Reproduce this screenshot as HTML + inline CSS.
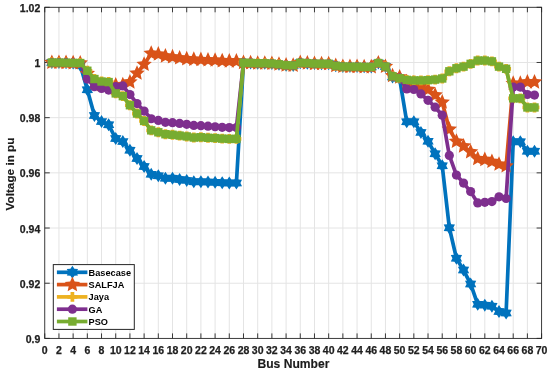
<!DOCTYPE html>
<html><head><meta charset="utf-8"><title>Voltage profile</title>
<style>html,body{margin:0;padding:0;background:#fff}body{width:550px;height:371px;position:relative;overflow:hidden}</style></head>
<body>
<svg width="550" height="371" viewBox="0 0 550 371" style="display:block;position:absolute;left:0;top:0">
<rect width="550" height="371" fill="#fff"/>
<path d="M58.95 7.30V338.40M73.14 7.30V338.40M87.34 7.30V338.40M101.53 7.30V338.40M115.73 7.30V338.40M129.92 7.30V338.40M144.12 7.30V338.40M158.32 7.30V338.40M172.51 7.30V338.40M186.71 7.30V338.40M200.90 7.30V338.40M215.10 7.30V338.40M229.29 7.30V338.40M243.49 7.30V338.40M257.69 7.30V338.40M271.88 7.30V338.40M286.08 7.30V338.40M300.27 7.30V338.40M314.47 7.30V338.40M328.66 7.30V338.40M342.86 7.30V338.40M357.06 7.30V338.40M371.25 7.30V338.40M385.45 7.30V338.40M399.64 7.30V338.40M413.84 7.30V338.40M428.03 7.30V338.40M442.23 7.30V338.40M456.43 7.30V338.40M470.62 7.30V338.40M484.82 7.30V338.40M499.01 7.30V338.40M513.21 7.30V338.40M527.40 7.30V338.40M44.75 62.48H541.60M44.75 117.67H541.60M44.75 172.85H541.60M44.75 228.03H541.60M44.75 283.22H541.60" stroke="#e4e4e4" stroke-width="1" fill="none"/>
<path d="M44.75 338.40V333.40M44.75 7.30V12.30M58.95 338.40V333.40M58.95 7.30V12.30M73.14 338.40V333.40M73.14 7.30V12.30M87.34 338.40V333.40M87.34 7.30V12.30M101.53 338.40V333.40M101.53 7.30V12.30M115.73 338.40V333.40M115.73 7.30V12.30M129.92 338.40V333.40M129.92 7.30V12.30M144.12 338.40V333.40M144.12 7.30V12.30M158.32 338.40V333.40M158.32 7.30V12.30M172.51 338.40V333.40M172.51 7.30V12.30M186.71 338.40V333.40M186.71 7.30V12.30M200.90 338.40V333.40M200.90 7.30V12.30M215.10 338.40V333.40M215.10 7.30V12.30M229.29 338.40V333.40M229.29 7.30V12.30M243.49 338.40V333.40M243.49 7.30V12.30M257.69 338.40V333.40M257.69 7.30V12.30M271.88 338.40V333.40M271.88 7.30V12.30M286.08 338.40V333.40M286.08 7.30V12.30M300.27 338.40V333.40M300.27 7.30V12.30M314.47 338.40V333.40M314.47 7.30V12.30M328.66 338.40V333.40M328.66 7.30V12.30M342.86 338.40V333.40M342.86 7.30V12.30M357.06 338.40V333.40M357.06 7.30V12.30M371.25 338.40V333.40M371.25 7.30V12.30M385.45 338.40V333.40M385.45 7.30V12.30M399.64 338.40V333.40M399.64 7.30V12.30M413.84 338.40V333.40M413.84 7.30V12.30M428.03 338.40V333.40M428.03 7.30V12.30M442.23 338.40V333.40M442.23 7.30V12.30M456.43 338.40V333.40M456.43 7.30V12.30M470.62 338.40V333.40M470.62 7.30V12.30M484.82 338.40V333.40M484.82 7.30V12.30M499.01 338.40V333.40M499.01 7.30V12.30M513.21 338.40V333.40M513.21 7.30V12.30M527.40 338.40V333.40M527.40 7.30V12.30M541.60 338.40V333.40M541.60 7.30V12.30M44.75 7.30H49.75M541.60 7.30H536.60M44.75 62.48H49.75M541.60 62.48H536.60M44.75 117.67H49.75M541.60 117.67H536.60M44.75 172.85H49.75M541.60 172.85H536.60M44.75 228.03H49.75M541.60 228.03H536.60M44.75 283.22H49.75M541.60 283.22H536.60M44.75 338.40H49.75M541.60 338.40H536.60" stroke="#262626" stroke-width="0.9" fill="none"/>
<rect x="44.75" y="7.30" width="496.85" height="331.10" fill="none" stroke="#262626" stroke-width="0.9"/>
<g>
<polyline points="51.85,62.48 58.95,62.57 66.04,62.68 73.14,62.92 80.24,65.19 87.34,89.83 94.44,115.49 101.53,121.61 108.63,124.73 115.73,138.53 122.83,141.62 129.92,150.34 137.02,158.42 144.12,166.42 151.22,174.34 158.32,175.80 165.41,178.23 172.51,178.26 179.61,179.55 186.71,180.38 193.81,181.71 200.90,181.73 208.00,181.93 215.10,182.37 222.20,182.84 229.29,183.03 236.39,183.09 243.49,62.68 250.59,62.90 257.69,63.23 264.78,63.28 271.88,63.56 278.98,64.28 286.08,65.21 293.18,65.38 300.27,62.70 307.37,63.17 314.47,63.61 321.57,63.75 328.66,63.75 335.76,65.68 342.86,66.48 349.96,66.59 357.06,66.62 364.15,66.87 371.25,66.90 378.35,63.06 385.45,66.51 392.55,77.11 399.64,78.62 406.74,121.70 413.84,121.72 420.94,132.40 428.03,141.37 435.13,153.70 442.23,165.76 449.33,227.76 456.43,258.27 463.52,270.08 470.62,283.93 477.72,304.35 484.82,305.15 491.92,306.20 499.01,311.44 506.11,313.04 513.21,141.78 520.31,141.78 527.40,151.25 534.50,151.25" fill="none" stroke="#0072BD" stroke-width="3.7" stroke-linejoin="round"/><g><polygon points="51.85,55.98 53.85,59.02 57.48,59.23 55.85,62.48 57.48,65.73 53.85,65.95 51.85,68.98 49.85,65.95 46.22,65.73 47.85,62.48 46.22,59.23 49.85,59.02" fill="#0072BD"/><polygon points="58.95,56.07 60.95,59.10 64.57,59.32 62.95,62.57 64.57,65.82 60.95,66.03 58.95,69.07 56.95,66.03 53.32,65.82 54.95,62.57 53.32,59.32 56.95,59.10" fill="#0072BD"/><polygon points="66.04,56.18 68.04,59.21 71.67,59.43 70.04,62.68 71.67,65.93 68.04,66.14 66.04,69.18 64.04,66.14 60.41,65.93 62.04,62.68 60.41,59.43 64.04,59.21" fill="#0072BD"/><polygon points="73.14,56.42 75.14,59.46 78.77,59.67 77.14,62.92 78.77,66.17 75.14,66.39 73.14,69.42 71.14,66.39 67.51,66.17 69.14,62.92 67.51,59.67 71.14,59.46" fill="#0072BD"/><polygon points="80.24,58.69 82.24,61.72 85.87,61.94 84.24,65.19 85.87,68.44 82.24,68.65 80.24,71.69 78.24,68.65 74.61,68.44 76.24,65.19 74.61,61.94 78.24,61.72" fill="#0072BD"/><polygon points="87.34,83.33 89.34,86.36 92.97,86.58 91.34,89.83 92.97,93.08 89.34,93.29 87.34,96.33 85.34,93.29 81.71,93.08 83.34,89.83 81.71,86.58 85.34,86.36" fill="#0072BD"/><polygon points="94.44,108.99 96.44,112.02 100.06,112.24 98.44,115.49 100.06,118.74 96.44,118.95 94.44,121.99 92.44,118.95 88.81,118.74 90.44,115.49 88.81,112.24 92.44,112.02" fill="#0072BD"/><polygon points="101.53,115.11 103.53,118.15 107.16,118.36 105.53,121.61 107.16,124.86 103.53,125.08 101.53,128.11 99.53,125.08 95.90,124.86 97.53,121.61 95.90,118.36 99.53,118.15" fill="#0072BD"/><polygon points="108.63,118.23 110.63,121.27 114.26,121.48 112.63,124.73 114.26,127.98 110.63,128.19 108.63,131.23 106.63,128.19 103.00,127.98 104.63,124.73 103.00,121.48 106.63,121.27" fill="#0072BD"/><polygon points="115.73,132.03 117.73,135.06 121.36,135.28 119.73,138.53 121.36,141.78 117.73,141.99 115.73,145.03 113.73,141.99 110.10,141.78 111.73,138.53 110.10,135.28 113.73,135.06" fill="#0072BD"/><polygon points="122.83,135.12 124.83,138.15 128.46,138.37 126.83,141.62 128.46,144.87 124.83,145.08 122.83,148.12 120.83,145.08 117.20,144.87 118.83,141.62 117.20,138.37 120.83,138.15" fill="#0072BD"/><polygon points="129.92,143.84 131.92,146.87 135.55,147.09 133.92,150.34 135.55,153.59 131.92,153.80 129.92,156.84 127.92,153.80 124.30,153.59 125.92,150.34 124.30,147.09 127.92,146.87" fill="#0072BD"/><polygon points="137.02,151.92 139.02,154.96 142.65,155.17 141.02,158.42 142.65,161.67 139.02,161.88 137.02,164.92 135.02,161.88 131.39,161.67 133.02,158.42 131.39,155.17 135.02,154.96" fill="#0072BD"/><polygon points="144.12,159.92 146.12,162.96 149.75,163.17 148.12,166.42 149.75,169.67 146.12,169.89 144.12,172.92 142.12,169.89 138.49,169.67 140.12,166.42 138.49,163.17 142.12,162.96" fill="#0072BD"/><polygon points="151.22,167.84 153.22,170.88 156.85,171.09 155.22,174.34 156.85,177.59 153.22,177.80 151.22,180.84 149.22,177.80 145.59,177.59 147.22,174.34 145.59,171.09 149.22,170.88" fill="#0072BD"/><polygon points="158.32,169.30 160.32,172.34 163.94,172.55 162.32,175.80 163.94,179.05 160.32,179.27 158.32,182.30 156.32,179.27 152.69,179.05 154.32,175.80 152.69,172.55 156.32,172.34" fill="#0072BD"/><polygon points="165.41,171.73 167.41,174.77 171.04,174.98 169.41,178.23 171.04,181.48 167.41,181.69 165.41,184.73 163.41,181.69 159.78,181.48 161.41,178.23 159.78,174.98 163.41,174.77" fill="#0072BD"/><polygon points="172.51,171.76 174.51,174.79 178.14,175.01 176.51,178.26 178.14,181.51 174.51,181.72 172.51,184.76 170.51,181.72 166.88,181.51 168.51,178.26 166.88,175.01 170.51,174.79" fill="#0072BD"/><polygon points="179.61,173.05 181.61,176.09 185.24,176.30 183.61,179.55 185.24,182.80 181.61,183.02 179.61,186.05 177.61,183.02 173.98,182.80 175.61,179.55 173.98,176.30 177.61,176.09" fill="#0072BD"/><polygon points="186.71,173.88 188.71,176.92 192.34,177.13 190.71,180.38 192.34,183.63 188.71,183.85 186.71,186.88 184.71,183.85 181.08,183.63 182.71,180.38 181.08,177.13 184.71,176.92" fill="#0072BD"/><polygon points="193.81,175.21 195.81,178.24 199.43,178.46 197.81,181.71 199.43,184.96 195.81,185.17 193.81,188.21 191.81,185.17 188.18,184.96 189.81,181.71 188.18,178.46 191.81,178.24" fill="#0072BD"/><polygon points="200.90,175.23 202.90,178.27 206.53,178.48 204.90,181.73 206.53,184.98 202.90,185.20 200.90,188.23 198.90,185.20 195.27,184.98 196.90,181.73 195.27,178.48 198.90,178.27" fill="#0072BD"/><polygon points="208.00,175.43 210.00,178.46 213.63,178.68 212.00,181.93 213.63,185.18 210.00,185.39 208.00,188.43 206.00,185.39 202.37,185.18 204.00,181.93 202.37,178.68 206.00,178.46" fill="#0072BD"/><polygon points="215.10,175.87 217.10,178.91 220.73,179.12 219.10,182.37 220.73,185.62 217.10,185.83 215.10,188.87 213.10,185.83 209.47,185.62 211.10,182.37 209.47,179.12 213.10,178.91" fill="#0072BD"/><polygon points="222.20,176.34 224.20,179.37 227.83,179.59 226.20,182.84 227.83,186.09 224.20,186.30 222.20,189.34 220.20,186.30 216.57,186.09 218.20,182.84 216.57,179.59 220.20,179.37" fill="#0072BD"/><polygon points="229.29,176.53 231.29,179.57 234.92,179.78 233.29,183.03 234.92,186.28 231.29,186.50 229.29,189.53 227.29,186.50 223.67,186.28 225.29,183.03 223.67,179.78 227.29,179.57" fill="#0072BD"/><polygon points="236.39,176.59 238.39,179.62 242.02,179.84 240.39,183.09 242.02,186.34 238.39,186.55 236.39,189.59 234.39,186.55 230.76,186.34 232.39,183.09 230.76,179.84 234.39,179.62" fill="#0072BD"/><polygon points="243.49,56.18 245.49,59.21 249.12,59.43 247.49,62.68 249.12,65.93 245.49,66.14 243.49,69.18 241.49,66.14 237.86,65.93 239.49,62.68 237.86,59.43 241.49,59.21" fill="#0072BD"/><polygon points="250.59,56.40 252.59,59.43 256.22,59.65 254.59,62.90 256.22,66.15 252.59,66.36 250.59,69.40 248.59,66.36 244.96,66.15 246.59,62.90 244.96,59.65 248.59,59.43" fill="#0072BD"/><polygon points="257.69,56.73 259.69,59.76 263.31,59.98 261.69,63.23 263.31,66.48 259.69,66.69 257.69,69.73 255.69,66.69 252.06,66.48 253.69,63.23 252.06,59.98 255.69,59.76" fill="#0072BD"/><polygon points="264.78,56.78 266.78,59.82 270.41,60.03 268.78,63.28 270.41,66.53 266.78,66.75 264.78,69.78 262.78,66.75 259.15,66.53 260.78,63.28 259.15,60.03 262.78,59.82" fill="#0072BD"/><polygon points="271.88,57.06 273.88,60.10 277.51,60.31 275.88,63.56 277.51,66.81 273.88,67.02 271.88,70.06 269.88,67.02 266.25,66.81 267.88,63.56 266.25,60.31 269.88,60.10" fill="#0072BD"/><polygon points="278.98,57.78 280.98,60.81 284.61,61.03 282.98,64.28 284.61,67.53 280.98,67.74 278.98,70.78 276.98,67.74 273.35,67.53 274.98,64.28 273.35,61.03 276.98,60.81" fill="#0072BD"/><polygon points="286.08,58.71 288.08,61.75 291.71,61.96 290.08,65.21 291.71,68.46 288.08,68.68 286.08,71.71 284.08,68.68 280.45,68.46 282.08,65.21 280.45,61.96 284.08,61.75" fill="#0072BD"/><polygon points="293.18,58.88 295.18,61.92 298.80,62.13 297.18,65.38 298.80,68.63 295.18,68.84 293.18,71.88 291.18,68.84 287.55,68.63 289.18,65.38 287.55,62.13 291.18,61.92" fill="#0072BD"/><polygon points="300.27,56.20 302.27,59.24 305.90,59.45 304.27,62.70 305.90,65.95 302.27,66.17 300.27,69.20 298.27,66.17 294.64,65.95 296.27,62.70 294.64,59.45 298.27,59.24" fill="#0072BD"/><polygon points="307.37,56.67 309.37,59.71 313.00,59.92 311.37,63.17 313.00,66.42 309.37,66.64 307.37,69.67 305.37,66.64 301.74,66.42 303.37,63.17 301.74,59.92 305.37,59.71" fill="#0072BD"/><polygon points="314.47,57.11 316.47,60.15 320.10,60.36 318.47,63.61 320.10,66.86 316.47,67.08 314.47,70.11 312.47,67.08 308.84,66.86 310.47,63.61 308.84,60.36 312.47,60.15" fill="#0072BD"/><polygon points="321.57,57.25 323.57,60.29 327.20,60.50 325.57,63.75 327.20,67.00 323.57,67.22 321.57,70.25 319.57,67.22 315.94,67.00 317.57,63.75 315.94,60.50 319.57,60.29" fill="#0072BD"/><polygon points="328.66,57.25 330.66,60.29 334.29,60.50 332.66,63.75 334.29,67.00 330.66,67.22 328.66,70.25 326.66,67.22 323.04,67.00 324.66,63.75 323.04,60.50 326.66,60.29" fill="#0072BD"/><polygon points="335.76,59.18 337.76,62.22 341.39,62.43 339.76,65.68 341.39,68.93 337.76,69.15 335.76,72.18 333.76,69.15 330.13,68.93 331.76,65.68 330.13,62.43 333.76,62.22" fill="#0072BD"/><polygon points="342.86,59.98 344.86,63.02 348.49,63.23 346.86,66.48 348.49,69.73 344.86,69.95 342.86,72.98 340.86,69.95 337.23,69.73 338.86,66.48 337.23,63.23 340.86,63.02" fill="#0072BD"/><polygon points="349.96,60.09 351.96,63.13 355.59,63.34 353.96,66.59 355.59,69.84 351.96,70.06 349.96,73.09 347.96,70.06 344.33,69.84 345.96,66.59 344.33,63.34 347.96,63.13" fill="#0072BD"/><polygon points="357.06,60.12 359.06,63.16 362.68,63.37 361.06,66.62 362.68,69.87 359.06,70.09 357.06,73.12 355.06,70.09 351.43,69.87 353.06,66.62 351.43,63.37 355.06,63.16" fill="#0072BD"/><polygon points="364.15,60.37 366.15,63.41 369.78,63.62 368.15,66.87 369.78,70.12 366.15,70.33 364.15,73.37 362.15,70.33 358.52,70.12 360.15,66.87 358.52,63.62 362.15,63.41" fill="#0072BD"/><polygon points="371.25,60.40 373.25,63.43 376.88,63.65 375.25,66.90 376.88,70.15 373.25,70.36 371.25,73.40 369.25,70.36 365.62,70.15 367.25,66.90 365.62,63.65 369.25,63.43" fill="#0072BD"/><polygon points="378.35,56.56 380.35,59.60 383.98,59.81 382.35,63.06 383.98,66.31 380.35,66.53 378.35,69.56 376.35,66.53 372.72,66.31 374.35,63.06 372.72,59.81 376.35,59.60" fill="#0072BD"/><polygon points="385.45,60.01 387.45,63.05 391.08,63.26 389.45,66.51 391.08,69.76 387.45,69.98 385.45,73.01 383.45,69.98 379.82,69.76 381.45,66.51 379.82,63.26 383.45,63.05" fill="#0072BD"/><polygon points="392.55,70.61 394.55,73.64 398.17,73.86 396.55,77.11 398.17,80.36 394.55,80.57 392.55,83.61 390.55,80.57 386.92,80.36 388.55,77.11 386.92,73.86 390.55,73.64" fill="#0072BD"/><polygon points="399.64,72.12 401.64,75.16 405.27,75.37 403.64,78.62 405.27,81.87 401.64,82.09 399.64,85.12 397.64,82.09 394.01,81.87 395.64,78.62 394.01,75.37 397.64,75.16" fill="#0072BD"/><polygon points="406.74,115.20 408.74,118.23 412.37,118.45 410.74,121.70 412.37,124.95 408.74,125.16 406.74,128.20 404.74,125.16 401.11,124.95 402.74,121.70 401.11,118.45 404.74,118.23" fill="#0072BD"/><polygon points="413.84,115.22 415.84,118.26 419.47,118.47 417.84,121.72 419.47,124.97 415.84,125.19 413.84,128.22 411.84,125.19 408.21,124.97 409.84,121.72 408.21,118.47 411.84,118.26" fill="#0072BD"/><polygon points="420.94,125.90 422.94,128.94 426.57,129.15 424.94,132.40 426.57,135.65 422.94,135.86 420.94,138.90 418.94,135.86 415.31,135.65 416.94,132.40 415.31,129.15 418.94,128.94" fill="#0072BD"/><polygon points="428.03,134.87 430.03,137.90 433.66,138.12 432.03,141.37 433.66,144.62 430.03,144.83 428.03,147.87 426.03,144.83 422.41,144.62 424.03,141.37 422.41,138.12 426.03,137.90" fill="#0072BD"/><polygon points="435.13,147.20 437.13,150.24 440.76,150.45 439.13,153.70 440.76,156.95 437.13,157.17 435.13,160.20 433.13,157.17 429.50,156.95 431.13,153.70 429.50,150.45 433.13,150.24" fill="#0072BD"/><polygon points="442.23,159.26 444.23,162.29 447.86,162.51 446.23,165.76 447.86,169.01 444.23,169.22 442.23,172.26 440.23,169.22 436.60,169.01 438.23,165.76 436.60,162.51 440.23,162.29" fill="#0072BD"/><polygon points="449.33,221.26 451.33,224.29 454.96,224.51 453.33,227.76 454.96,231.01 451.33,231.22 449.33,234.26 447.33,231.22 443.70,231.01 445.33,227.76 443.70,224.51 447.33,224.29" fill="#0072BD"/><polygon points="456.43,251.77 458.43,254.81 462.05,255.02 460.43,258.27 462.05,261.52 458.43,261.74 456.43,264.77 454.43,261.74 450.80,261.52 452.43,258.27 450.80,255.02 454.43,254.81" fill="#0072BD"/><polygon points="463.52,263.58 465.52,266.62 469.15,266.83 467.52,270.08 469.15,273.33 465.52,273.55 463.52,276.58 461.52,273.55 457.89,273.33 459.52,270.08 457.89,266.83 461.52,266.62" fill="#0072BD"/><polygon points="470.62,277.43 472.62,280.47 476.25,280.68 474.62,283.93 476.25,287.18 472.62,287.40 470.62,290.43 468.62,287.40 464.99,287.18 466.62,283.93 464.99,280.68 468.62,280.47" fill="#0072BD"/><polygon points="477.72,297.85 479.72,300.89 483.35,301.10 481.72,304.35 483.35,307.60 479.72,307.82 477.72,310.85 475.72,307.82 472.09,307.60 473.72,304.35 472.09,301.10 475.72,300.89" fill="#0072BD"/><polygon points="484.82,298.65 486.82,301.69 490.45,301.90 488.82,305.15 490.45,308.40 486.82,308.62 484.82,311.65 482.82,308.62 479.19,308.40 480.82,305.15 479.19,301.90 482.82,301.69" fill="#0072BD"/><polygon points="491.92,299.70 493.92,302.74 497.54,302.95 495.92,306.20 497.54,309.45 493.92,309.66 491.92,312.70 489.92,309.66 486.29,309.45 487.92,306.20 486.29,302.95 489.92,302.74" fill="#0072BD"/><polygon points="499.01,304.94 501.01,307.98 504.64,308.19 503.01,311.44 504.64,314.69 501.01,314.91 499.01,317.94 497.01,314.91 493.38,314.69 495.01,311.44 493.38,308.19 497.01,307.98" fill="#0072BD"/><polygon points="506.11,306.54 508.11,309.58 511.74,309.79 510.11,313.04 511.74,316.29 508.11,316.51 506.11,319.54 504.11,316.51 500.48,316.29 502.11,313.04 500.48,309.79 504.11,309.58" fill="#0072BD"/><polygon points="513.21,135.28 515.21,138.32 518.84,138.53 517.21,141.78 518.84,145.03 515.21,145.25 513.21,148.28 511.21,145.25 507.58,145.03 509.21,141.78 507.58,138.53 511.21,138.32" fill="#0072BD"/><polygon points="520.31,135.28 522.31,138.32 525.94,138.53 524.31,141.78 525.94,145.03 522.31,145.25 520.31,148.28 518.31,145.25 514.68,145.03 516.31,141.78 514.68,138.53 518.31,138.32" fill="#0072BD"/><polygon points="527.40,144.75 529.40,147.78 533.03,148.00 531.40,151.25 533.03,154.50 529.40,154.71 527.40,157.75 525.40,154.71 521.78,154.50 523.40,151.25 521.78,148.00 525.40,147.78" fill="#0072BD"/><polygon points="534.50,144.75 536.50,147.78 540.13,148.00 538.50,151.25 540.13,154.50 536.50,154.71 534.50,157.75 532.50,154.71 528.87,154.50 530.50,151.25 528.87,148.00 532.50,147.78" fill="#0072BD"/></g>
<polyline points="51.85,62.48 58.95,62.57 66.04,62.68 73.14,62.92 80.24,63.04 87.34,73.52 94.44,82.90 101.53,84.83 108.63,85.38 115.73,85.11 122.83,84.83 129.92,82.07 137.02,73.24 144.12,64.41 151.22,53.38 158.32,54.21 165.41,56.14 172.51,56.97 179.61,58.07 186.71,58.90 193.81,59.45 200.90,59.72 208.00,60.00 215.10,60.28 222.20,60.83 229.29,61.10 236.39,61.10 243.49,62.68 250.59,62.90 257.69,63.23 264.78,63.28 271.88,63.56 278.98,64.28 286.08,65.21 293.18,65.38 300.27,62.70 307.37,63.17 314.47,63.61 321.57,63.75 328.66,63.75 335.76,65.68 342.86,66.48 349.96,66.59 357.06,66.62 364.15,66.87 371.25,66.90 378.35,63.06 385.45,66.51 392.55,75.73 399.64,77.11 406.74,81.80 413.84,83.18 420.94,85.94 428.03,89.52 435.13,95.04 442.23,102.22 449.33,129.26 456.43,141.40 463.52,146.09 470.62,151.88 477.72,158.78 484.82,159.61 491.92,161.54 499.01,164.30 506.11,165.95 513.21,83.45 520.31,83.45 527.40,82.07 534.50,82.07" fill="none" stroke="#D95319" stroke-width="3.7" stroke-linejoin="round"/><g><polygon points="51.85,54.38 54.08,59.41 59.55,59.98 55.46,63.66 56.61,69.04 51.85,66.28 47.09,69.04 48.23,63.66 44.14,59.98 49.61,59.41" fill="#D95319"/><polygon points="58.95,54.47 61.18,59.49 66.65,60.06 62.56,63.74 63.71,69.12 58.95,66.37 54.18,69.12 55.33,63.74 51.24,60.06 56.71,59.49" fill="#D95319"/><polygon points="66.04,54.58 68.28,59.60 73.75,60.17 69.66,63.85 70.80,69.23 66.04,66.48 61.28,69.23 62.43,63.85 58.34,60.17 63.81,59.60" fill="#D95319"/><polygon points="73.14,54.82 75.38,59.85 80.84,60.42 76.76,64.10 77.90,69.48 73.14,66.72 68.38,69.48 69.53,64.10 65.44,60.42 70.91,59.85" fill="#D95319"/><polygon points="80.24,54.94 82.47,59.96 87.94,60.53 83.85,64.21 85.00,69.59 80.24,66.84 75.48,69.59 76.63,64.21 72.54,60.53 78.01,59.96" fill="#D95319"/><polygon points="87.34,65.42 89.57,70.45 95.04,71.02 90.95,74.69 92.10,80.07 87.34,77.32 82.58,80.07 83.72,74.69 79.63,71.02 85.10,70.45" fill="#D95319"/><polygon points="94.44,74.80 96.67,79.83 102.14,80.40 98.05,84.08 99.20,89.45 94.44,86.70 89.67,89.45 90.82,84.08 86.73,80.40 92.20,79.83" fill="#D95319"/><polygon points="101.53,76.73 103.77,81.76 109.24,82.33 105.15,86.01 106.29,91.39 101.53,88.63 96.77,91.39 97.92,86.01 93.83,82.33 99.30,81.76" fill="#D95319"/><polygon points="108.63,77.28 110.86,82.31 116.33,82.88 112.24,86.56 113.39,91.94 108.63,89.18 103.87,91.94 105.02,86.56 100.93,82.88 106.40,82.31" fill="#D95319"/><polygon points="115.73,77.01 117.96,82.03 123.43,82.61 119.34,86.28 120.49,91.66 115.73,88.91 110.97,91.66 112.11,86.28 108.03,82.61 113.49,82.03" fill="#D95319"/><polygon points="122.83,76.73 125.06,81.76 130.53,82.33 126.44,86.01 127.59,91.39 122.83,88.63 118.07,91.39 119.21,86.01 115.12,82.33 120.59,81.76" fill="#D95319"/><polygon points="129.92,73.97 132.16,79.00 137.63,79.57 133.54,83.25 134.69,88.63 129.92,85.87 125.16,88.63 126.31,83.25 122.22,79.57 127.69,79.00" fill="#D95319"/><polygon points="137.02,65.14 139.26,70.17 144.73,70.74 140.64,74.42 141.78,79.80 137.02,77.04 132.26,79.80 133.41,74.42 129.32,70.74 134.79,70.17" fill="#D95319"/><polygon points="144.12,56.31 146.35,61.34 151.82,61.91 147.73,65.59 148.88,70.97 144.12,68.21 139.36,70.97 140.51,65.59 136.42,61.91 141.89,61.34" fill="#D95319"/><polygon points="151.22,45.28 153.45,50.30 158.92,50.88 154.83,54.55 155.98,59.93 151.22,57.18 146.46,59.93 147.60,54.55 143.51,50.88 148.98,50.30" fill="#D95319"/><polygon points="158.32,46.11 160.55,51.13 166.02,51.70 161.93,55.38 163.08,60.76 158.32,58.01 153.55,60.76 154.70,55.38 150.61,51.70 156.08,51.13" fill="#D95319"/><polygon points="165.41,48.04 167.65,53.06 173.12,53.63 169.03,57.31 170.17,62.69 165.41,59.94 160.65,62.69 161.80,57.31 157.71,53.63 163.18,53.06" fill="#D95319"/><polygon points="172.51,48.87 174.75,53.89 180.21,54.46 176.13,58.14 177.27,63.52 172.51,60.77 167.75,63.52 168.90,58.14 164.81,54.46 170.28,53.89" fill="#D95319"/><polygon points="179.61,49.97 181.84,54.99 187.31,55.57 183.22,59.24 184.37,64.62 179.61,61.87 174.85,64.62 176.00,59.24 171.91,55.57 177.38,54.99" fill="#D95319"/><polygon points="186.71,50.80 188.94,55.82 194.41,56.39 190.32,60.07 191.47,65.45 186.71,62.70 181.95,65.45 183.09,60.07 179.00,56.39 184.47,55.82" fill="#D95319"/><polygon points="193.81,51.35 196.04,56.37 201.51,56.95 197.42,60.62 198.57,66.00 193.81,63.25 189.04,66.00 190.19,60.62 186.10,56.95 191.57,56.37" fill="#D95319"/><polygon points="200.90,51.62 203.14,56.65 208.61,57.22 204.52,60.90 205.66,66.28 200.90,63.52 196.14,66.28 197.29,60.90 193.20,57.22 198.67,56.65" fill="#D95319"/><polygon points="208.00,51.90 210.23,56.93 215.70,57.50 211.61,61.17 212.76,66.55 208.00,63.80 203.24,66.55 204.39,61.17 200.30,57.50 205.77,56.93" fill="#D95319"/><polygon points="215.10,52.18 217.33,57.20 222.80,57.77 218.71,61.45 219.86,66.83 215.10,64.08 210.34,66.83 211.48,61.45 207.40,57.77 212.86,57.20" fill="#D95319"/><polygon points="222.20,52.73 224.43,57.75 229.90,58.32 225.81,62.00 226.96,67.38 222.20,64.63 217.44,67.38 218.58,62.00 214.49,58.32 219.96,57.75" fill="#D95319"/><polygon points="229.29,53.00 231.53,58.03 237.00,58.60 232.91,62.28 234.06,67.66 229.29,64.90 224.53,67.66 225.68,62.28 221.59,58.60 227.06,58.03" fill="#D95319"/><polygon points="236.39,53.00 238.63,58.03 244.10,58.60 240.01,62.28 241.15,67.66 236.39,64.90 231.63,67.66 232.78,62.28 228.69,58.60 234.16,58.03" fill="#D95319"/><polygon points="243.49,54.58 245.72,59.60 251.19,60.17 247.10,63.85 248.25,69.23 243.49,66.48 238.73,69.23 239.88,63.85 235.79,60.17 241.26,59.60" fill="#D95319"/><polygon points="250.59,54.80 252.82,59.82 258.29,60.39 254.20,64.07 255.35,69.45 250.59,66.70 245.83,69.45 246.97,64.07 242.88,60.39 248.35,59.82" fill="#D95319"/><polygon points="257.69,55.13 259.92,60.15 265.39,60.73 261.30,64.40 262.45,69.78 257.69,67.03 252.92,69.78 254.07,64.40 249.98,60.73 255.45,60.15" fill="#D95319"/><polygon points="264.78,55.18 267.02,60.21 272.49,60.78 268.40,64.46 269.54,69.84 264.78,67.08 260.02,69.84 261.17,64.46 257.08,60.78 262.55,60.21" fill="#D95319"/><polygon points="271.88,55.46 274.12,60.49 279.58,61.06 275.50,64.73 276.64,70.11 271.88,67.36 267.12,70.11 268.27,64.73 264.18,61.06 269.65,60.49" fill="#D95319"/><polygon points="278.98,56.18 281.21,61.20 286.68,61.77 282.59,65.45 283.74,70.83 278.98,68.08 274.22,70.83 275.37,65.45 271.28,61.77 276.75,61.20" fill="#D95319"/><polygon points="286.08,57.11 288.31,62.14 293.78,62.71 289.69,66.39 290.84,71.77 286.08,69.01 281.32,71.77 282.46,66.39 278.37,62.71 283.84,62.14" fill="#D95319"/><polygon points="293.18,57.28 295.41,62.31 300.88,62.88 296.79,66.55 297.94,71.93 293.18,69.18 288.41,71.93 289.56,66.55 285.47,62.88 290.94,62.31" fill="#D95319"/><polygon points="300.27,54.60 302.51,59.63 307.98,60.20 303.89,63.88 305.03,69.26 300.27,66.50 295.51,69.26 296.66,63.88 292.57,60.20 298.04,59.63" fill="#D95319"/><polygon points="307.37,55.07 309.60,60.10 315.07,60.67 310.98,64.35 312.13,69.73 307.37,66.97 302.61,69.73 303.76,64.35 299.67,60.67 305.14,60.10" fill="#D95319"/><polygon points="314.47,55.51 316.70,60.54 322.17,61.11 318.08,64.79 319.23,70.17 314.47,67.41 309.71,70.17 310.85,64.79 306.77,61.11 312.23,60.54" fill="#D95319"/><polygon points="321.57,55.65 323.80,60.68 329.27,61.25 325.18,64.93 326.33,70.31 321.57,67.55 316.81,70.31 317.95,64.93 313.86,61.25 319.33,60.68" fill="#D95319"/><polygon points="328.66,55.65 330.90,60.68 336.37,61.25 332.28,64.93 333.43,70.31 328.66,67.55 323.90,70.31 325.05,64.93 320.96,61.25 326.43,60.68" fill="#D95319"/><polygon points="335.76,57.58 338.00,62.61 343.47,63.18 339.38,66.86 340.52,72.24 335.76,69.48 331.00,72.24 332.15,66.86 328.06,63.18 333.53,62.61" fill="#D95319"/><polygon points="342.86,58.38 345.09,63.41 350.56,63.98 346.47,67.66 347.62,73.04 342.86,70.28 338.10,73.04 339.25,67.66 335.16,63.98 340.63,63.41" fill="#D95319"/><polygon points="349.96,58.49 352.19,63.52 357.66,64.09 353.57,67.77 354.72,73.15 349.96,70.39 345.20,73.15 346.34,67.77 342.25,64.09 347.72,63.52" fill="#D95319"/><polygon points="357.06,58.52 359.29,63.55 364.76,64.12 360.67,67.80 361.82,73.18 357.06,70.42 352.29,73.18 353.44,67.80 349.35,64.12 354.82,63.55" fill="#D95319"/><polygon points="364.15,58.77 366.39,63.80 371.86,64.37 367.77,68.04 368.91,73.42 364.15,70.67 359.39,73.42 360.54,68.04 356.45,64.37 361.92,63.80" fill="#D95319"/><polygon points="371.25,58.80 373.49,63.82 378.95,64.39 374.87,68.07 376.01,73.45 371.25,70.70 366.49,73.45 367.64,68.07 363.55,64.39 369.02,63.82" fill="#D95319"/><polygon points="378.35,54.96 380.58,59.99 386.05,60.56 381.96,64.24 383.11,69.62 378.35,66.86 373.59,69.62 374.74,64.24 370.65,60.56 376.12,59.99" fill="#D95319"/><polygon points="385.45,58.41 387.68,63.44 393.15,64.01 389.06,67.69 390.21,73.06 385.45,70.31 380.69,73.06 381.83,67.69 377.74,64.01 383.21,63.44" fill="#D95319"/><polygon points="392.55,67.63 394.78,72.65 400.25,73.22 396.16,76.90 397.31,82.28 392.55,79.53 387.78,82.28 388.93,76.90 384.84,73.22 390.31,72.65" fill="#D95319"/><polygon points="399.64,69.01 401.88,74.03 407.35,74.60 403.26,78.28 404.40,83.66 399.64,80.91 394.88,83.66 396.03,78.28 391.94,74.60 397.41,74.03" fill="#D95319"/><polygon points="406.74,73.70 408.97,78.72 414.44,79.29 410.35,82.97 411.50,88.35 406.74,85.60 401.98,88.35 403.13,82.97 399.04,79.29 404.51,78.72" fill="#D95319"/><polygon points="413.84,75.08 416.07,80.10 421.54,80.67 417.45,84.35 418.60,89.73 413.84,86.98 409.08,89.73 410.22,84.35 406.14,80.67 411.60,80.10" fill="#D95319"/><polygon points="420.94,77.84 423.17,82.86 428.64,83.43 424.55,87.11 425.70,92.49 420.94,89.74 416.18,92.49 417.32,87.11 413.23,83.43 418.70,82.86" fill="#D95319"/><polygon points="428.03,81.42 430.27,86.45 435.74,87.02 431.65,90.70 432.80,96.08 428.03,93.32 423.27,96.08 424.42,90.70 420.33,87.02 425.80,86.45" fill="#D95319"/><polygon points="435.13,86.94 437.37,91.97 442.84,92.54 438.75,96.22 439.89,101.59 435.13,98.84 430.37,101.59 431.52,96.22 427.43,92.54 432.90,91.97" fill="#D95319"/><polygon points="442.23,94.12 444.46,99.14 449.93,99.71 445.84,103.39 446.99,108.77 442.23,106.02 437.47,108.77 438.62,103.39 434.53,99.71 440.00,99.14" fill="#D95319"/><polygon points="449.33,121.16 451.56,126.18 457.03,126.75 452.94,130.43 454.09,135.81 449.33,133.06 444.57,135.81 445.71,130.43 441.62,126.75 447.09,126.18" fill="#D95319"/><polygon points="456.43,133.30 458.66,138.32 464.13,138.89 460.04,142.57 461.19,147.95 456.43,145.20 451.66,147.95 452.81,142.57 448.72,138.89 454.19,138.32" fill="#D95319"/><polygon points="463.52,137.99 465.76,143.01 471.23,143.58 467.14,147.26 468.28,152.64 463.52,149.89 458.76,152.64 459.91,147.26 455.82,143.58 461.29,143.01" fill="#D95319"/><polygon points="470.62,143.78 472.86,148.81 478.32,149.38 474.24,153.05 475.38,158.43 470.62,155.68 465.86,158.43 467.01,153.05 462.92,149.38 468.39,148.81" fill="#D95319"/><polygon points="477.72,150.68 479.95,155.70 485.42,156.28 481.33,159.95 482.48,165.33 477.72,162.58 472.96,165.33 474.11,159.95 470.02,156.28 475.49,155.70" fill="#D95319"/><polygon points="484.82,151.51 487.05,156.53 492.52,157.10 488.43,160.78 489.58,166.16 484.82,163.41 480.06,166.16 481.20,160.78 477.11,157.10 482.58,156.53" fill="#D95319"/><polygon points="491.92,153.44 494.15,158.46 499.62,159.03 495.53,162.71 496.68,168.09 491.92,165.34 487.15,168.09 488.30,162.71 484.21,159.03 489.68,158.46" fill="#D95319"/><polygon points="499.01,156.20 501.25,161.22 506.72,161.79 502.63,165.47 503.77,170.85 499.01,168.10 494.25,170.85 495.40,165.47 491.31,161.79 496.78,161.22" fill="#D95319"/><polygon points="506.11,157.85 508.34,162.88 513.81,163.45 509.72,167.13 510.87,172.51 506.11,169.75 501.35,172.51 502.50,167.13 498.41,163.45 503.88,162.88" fill="#D95319"/><polygon points="513.21,75.35 515.44,80.38 520.91,80.95 516.82,84.63 517.97,90.01 513.21,87.25 508.45,90.01 509.59,84.63 505.51,80.95 510.97,80.38" fill="#D95319"/><polygon points="520.31,75.35 522.54,80.38 528.01,80.95 523.92,84.63 525.07,90.01 520.31,87.25 515.55,90.01 516.69,84.63 512.60,80.95 518.07,80.38" fill="#D95319"/><polygon points="527.40,73.97 529.64,79.00 535.11,79.57 531.02,83.25 532.17,88.63 527.40,85.87 522.64,88.63 523.79,83.25 519.70,79.57 525.17,79.00" fill="#D95319"/><polygon points="534.50,73.97 536.74,79.00 542.21,79.57 538.12,83.25 539.26,88.63 534.50,85.87 529.74,88.63 530.89,83.25 526.80,79.57 532.27,79.00" fill="#D95319"/></g>
<polyline points="51.85,62.48 58.95,62.57 66.04,62.68 73.14,62.92 80.24,63.04 87.34,70.76 94.44,79.04 101.53,81.52 108.63,82.07 115.73,93.39 122.83,96.15 129.92,105.25 137.02,113.53 144.12,120.98 151.22,130.36 158.32,132.29 165.41,134.22 172.51,134.77 179.61,135.60 186.71,136.43 193.81,137.53 200.90,137.26 208.00,137.81 215.10,138.08 222.20,138.64 229.29,138.91 236.39,138.91 243.49,62.68 250.59,62.90 257.69,63.23 264.78,63.28 271.88,63.56 278.98,64.28 286.08,65.21 293.18,65.38 300.27,62.70 307.37,63.17 314.47,63.61 321.57,63.75 328.66,63.75 335.76,65.68 342.86,66.48 349.96,66.59 357.06,66.62 364.15,66.87 371.25,66.90 378.35,63.06 385.45,66.51 392.55,76.28 399.64,78.21 406.74,79.87 413.84,80.42 420.94,80.42 428.03,80.14 435.13,79.59 442.23,78.49 449.33,71.31 456.43,68.28 463.52,66.62 470.62,63.86 477.72,60.55 484.82,60.55 491.92,61.38 499.01,66.62 506.11,68.83 513.21,98.35 520.31,98.35 527.40,107.46 534.50,107.46" fill="none" stroke="#EDB120" stroke-width="3.7" stroke-linejoin="round"/><g><path d="M46.90 62.48H56.80M51.85 57.53V67.43" stroke="#EDB120" stroke-width="3.7" fill="none"/><path d="M54.00 62.57H63.90M58.95 57.62V67.52" stroke="#EDB120" stroke-width="3.7" fill="none"/><path d="M61.09 62.68H70.99M66.04 57.73V67.63" stroke="#EDB120" stroke-width="3.7" fill="none"/><path d="M68.19 62.92H78.09M73.14 57.97V67.87" stroke="#EDB120" stroke-width="3.7" fill="none"/><path d="M75.29 63.04H85.19M80.24 58.09V67.99" stroke="#EDB120" stroke-width="3.7" fill="none"/><path d="M82.39 70.76H92.29M87.34 65.81V75.71" stroke="#EDB120" stroke-width="3.7" fill="none"/><path d="M89.48 79.04H99.39M94.44 74.09V83.99" stroke="#EDB120" stroke-width="3.7" fill="none"/><path d="M96.58 81.52H106.48M101.53 76.57V86.47" stroke="#EDB120" stroke-width="3.7" fill="none"/><path d="M103.68 82.07H113.58M108.63 77.12V87.02" stroke="#EDB120" stroke-width="3.7" fill="none"/><path d="M110.78 93.39H120.68M115.73 88.44V98.34" stroke="#EDB120" stroke-width="3.7" fill="none"/><path d="M117.88 96.15H127.78M122.83 91.20V101.10" stroke="#EDB120" stroke-width="3.7" fill="none"/><path d="M124.97 105.25H134.87M129.92 100.30V110.20" stroke="#EDB120" stroke-width="3.7" fill="none"/><path d="M132.07 113.53H141.97M137.02 108.58V118.48" stroke="#EDB120" stroke-width="3.7" fill="none"/><path d="M139.17 120.98H149.07M144.12 116.03V125.93" stroke="#EDB120" stroke-width="3.7" fill="none"/><path d="M146.27 130.36H156.17M151.22 125.41V135.31" stroke="#EDB120" stroke-width="3.7" fill="none"/><path d="M153.37 132.29H163.27M158.32 127.34V137.24" stroke="#EDB120" stroke-width="3.7" fill="none"/><path d="M160.46 134.22H170.36M165.41 129.27V139.17" stroke="#EDB120" stroke-width="3.7" fill="none"/><path d="M167.56 134.77H177.46M172.51 129.82V139.72" stroke="#EDB120" stroke-width="3.7" fill="none"/><path d="M174.66 135.60H184.56M179.61 130.65V140.55" stroke="#EDB120" stroke-width="3.7" fill="none"/><path d="M181.76 136.43H191.66M186.71 131.48V141.38" stroke="#EDB120" stroke-width="3.7" fill="none"/><path d="M188.86 137.53H198.75M193.81 132.58V142.48" stroke="#EDB120" stroke-width="3.7" fill="none"/><path d="M195.95 137.26H205.85M200.90 132.31V142.21" stroke="#EDB120" stroke-width="3.7" fill="none"/><path d="M203.05 137.81H212.95M208.00 132.86V142.76" stroke="#EDB120" stroke-width="3.7" fill="none"/><path d="M210.15 138.08H220.05M215.10 133.13V143.03" stroke="#EDB120" stroke-width="3.7" fill="none"/><path d="M217.25 138.64H227.15M222.20 133.69V143.59" stroke="#EDB120" stroke-width="3.7" fill="none"/><path d="M224.34 138.91H234.24M229.29 133.96V143.86" stroke="#EDB120" stroke-width="3.7" fill="none"/><path d="M231.44 138.91H241.34M236.39 133.96V143.86" stroke="#EDB120" stroke-width="3.7" fill="none"/><path d="M238.54 62.68H248.44M243.49 57.73V67.63" stroke="#EDB120" stroke-width="3.7" fill="none"/><path d="M245.64 62.90H255.54M250.59 57.95V67.85" stroke="#EDB120" stroke-width="3.7" fill="none"/><path d="M252.74 63.23H262.64M257.69 58.28V68.18" stroke="#EDB120" stroke-width="3.7" fill="none"/><path d="M259.83 63.28H269.73M264.78 58.33V68.23" stroke="#EDB120" stroke-width="3.7" fill="none"/><path d="M266.93 63.56H276.83M271.88 58.61V68.51" stroke="#EDB120" stroke-width="3.7" fill="none"/><path d="M274.03 64.28H283.93M278.98 59.33V69.23" stroke="#EDB120" stroke-width="3.7" fill="none"/><path d="M281.13 65.21H291.03M286.08 60.26V70.16" stroke="#EDB120" stroke-width="3.7" fill="none"/><path d="M288.23 65.38H298.12M293.18 60.43V70.33" stroke="#EDB120" stroke-width="3.7" fill="none"/><path d="M295.32 62.70H305.22M300.27 57.75V67.65" stroke="#EDB120" stroke-width="3.7" fill="none"/><path d="M302.42 63.17H312.32M307.37 58.22V68.12" stroke="#EDB120" stroke-width="3.7" fill="none"/><path d="M309.52 63.61H319.42M314.47 58.66V68.56" stroke="#EDB120" stroke-width="3.7" fill="none"/><path d="M316.62 63.75H326.52M321.57 58.80V68.70" stroke="#EDB120" stroke-width="3.7" fill="none"/><path d="M323.71 63.75H333.61M328.66 58.80V68.70" stroke="#EDB120" stroke-width="3.7" fill="none"/><path d="M330.81 65.68H340.71M335.76 60.73V70.63" stroke="#EDB120" stroke-width="3.7" fill="none"/><path d="M337.91 66.48H347.81M342.86 61.53V71.43" stroke="#EDB120" stroke-width="3.7" fill="none"/><path d="M345.01 66.59H354.91M349.96 61.64V71.54" stroke="#EDB120" stroke-width="3.7" fill="none"/><path d="M352.11 66.62H362.01M357.06 61.67V71.57" stroke="#EDB120" stroke-width="3.7" fill="none"/><path d="M359.20 66.87H369.10M364.15 61.92V71.82" stroke="#EDB120" stroke-width="3.7" fill="none"/><path d="M366.30 66.90H376.20M371.25 61.95V71.85" stroke="#EDB120" stroke-width="3.7" fill="none"/><path d="M373.40 63.06H383.30M378.35 58.11V68.01" stroke="#EDB120" stroke-width="3.7" fill="none"/><path d="M380.50 66.51H390.40M385.45 61.56V71.46" stroke="#EDB120" stroke-width="3.7" fill="none"/><path d="M387.60 76.28H397.50M392.55 71.33V81.23" stroke="#EDB120" stroke-width="3.7" fill="none"/><path d="M394.69 78.21H404.59M399.64 73.26V83.16" stroke="#EDB120" stroke-width="3.7" fill="none"/><path d="M401.79 79.87H411.69M406.74 74.92V84.82" stroke="#EDB120" stroke-width="3.7" fill="none"/><path d="M408.89 80.42H418.79M413.84 75.47V85.37" stroke="#EDB120" stroke-width="3.7" fill="none"/><path d="M415.99 80.42H425.89M420.94 75.47V85.37" stroke="#EDB120" stroke-width="3.7" fill="none"/><path d="M423.08 80.14H432.98M428.03 75.19V85.09" stroke="#EDB120" stroke-width="3.7" fill="none"/><path d="M430.18 79.59H440.08M435.13 74.64V84.54" stroke="#EDB120" stroke-width="3.7" fill="none"/><path d="M437.28 78.49H447.18M442.23 73.54V83.44" stroke="#EDB120" stroke-width="3.7" fill="none"/><path d="M444.38 71.31H454.28M449.33 66.36V76.26" stroke="#EDB120" stroke-width="3.7" fill="none"/><path d="M451.48 68.28H461.38M456.43 63.33V73.23" stroke="#EDB120" stroke-width="3.7" fill="none"/><path d="M458.57 66.62H468.47M463.52 61.67V71.57" stroke="#EDB120" stroke-width="3.7" fill="none"/><path d="M465.67 63.86H475.57M470.62 58.91V68.81" stroke="#EDB120" stroke-width="3.7" fill="none"/><path d="M472.77 60.55H482.67M477.72 55.60V65.50" stroke="#EDB120" stroke-width="3.7" fill="none"/><path d="M479.87 60.55H489.77M484.82 55.60V65.50" stroke="#EDB120" stroke-width="3.7" fill="none"/><path d="M486.97 61.38H496.87M491.92 56.43V66.33" stroke="#EDB120" stroke-width="3.7" fill="none"/><path d="M494.06 66.62H503.96M499.01 61.67V71.57" stroke="#EDB120" stroke-width="3.7" fill="none"/><path d="M501.16 68.83H511.06M506.11 63.88V73.78" stroke="#EDB120" stroke-width="3.7" fill="none"/><path d="M508.26 98.35H518.16M513.21 93.40V103.30" stroke="#EDB120" stroke-width="3.7" fill="none"/><path d="M515.36 98.35H525.26M520.31 93.40V103.30" stroke="#EDB120" stroke-width="3.7" fill="none"/><path d="M522.45 107.46H532.35M527.40 102.51V112.41" stroke="#EDB120" stroke-width="3.7" fill="none"/><path d="M529.55 107.46H539.45M534.50 102.51V112.41" stroke="#EDB120" stroke-width="3.7" fill="none"/></g>
<polyline points="51.85,62.48 58.95,62.57 66.04,62.68 73.14,62.92 80.24,63.31 87.34,79.04 94.44,86.76 101.53,88.42 108.63,90.08 115.73,86.49 122.83,85.94 129.92,94.49 137.02,103.59 144.12,111.04 151.22,118.77 158.32,120.43 165.41,122.36 172.51,122.63 179.61,123.46 186.71,124.29 193.81,125.39 200.90,125.67 208.00,126.22 215.10,126.77 222.20,127.32 229.29,127.60 236.39,127.60 243.49,62.68 250.59,62.90 257.69,63.23 264.78,63.28 271.88,63.56 278.98,64.28 286.08,65.21 293.18,65.38 300.27,62.70 307.37,63.17 314.47,63.61 321.57,63.75 328.66,63.75 335.76,65.68 342.86,66.48 349.96,66.59 357.06,66.62 364.15,66.87 371.25,66.90 378.35,63.06 385.45,66.51 392.55,76.28 399.64,77.93 406.74,88.97 413.84,89.52 420.94,93.94 428.03,100.28 435.13,107.18 442.23,115.18 449.33,155.47 456.43,175.06 463.52,183.06 470.62,191.61 477.72,202.92 484.82,202.37 491.92,201.55 499.01,196.85 506.11,198.51 513.21,87.04 520.31,87.04 527.40,94.49 534.50,95.04" fill="none" stroke="#7E2F8E" stroke-width="3.7" stroke-linejoin="round"/><g><circle cx="51.85" cy="62.48" r="4.60" fill="#7E2F8E"/><circle cx="58.95" cy="62.57" r="4.60" fill="#7E2F8E"/><circle cx="66.04" cy="62.68" r="4.60" fill="#7E2F8E"/><circle cx="73.14" cy="62.92" r="4.60" fill="#7E2F8E"/><circle cx="80.24" cy="63.31" r="4.60" fill="#7E2F8E"/><circle cx="87.34" cy="79.04" r="4.60" fill="#7E2F8E"/><circle cx="94.44" cy="86.76" r="4.60" fill="#7E2F8E"/><circle cx="101.53" cy="88.42" r="4.60" fill="#7E2F8E"/><circle cx="108.63" cy="90.08" r="4.60" fill="#7E2F8E"/><circle cx="115.73" cy="86.49" r="4.60" fill="#7E2F8E"/><circle cx="122.83" cy="85.94" r="4.60" fill="#7E2F8E"/><circle cx="129.92" cy="94.49" r="4.60" fill="#7E2F8E"/><circle cx="137.02" cy="103.59" r="4.60" fill="#7E2F8E"/><circle cx="144.12" cy="111.04" r="4.60" fill="#7E2F8E"/><circle cx="151.22" cy="118.77" r="4.60" fill="#7E2F8E"/><circle cx="158.32" cy="120.43" r="4.60" fill="#7E2F8E"/><circle cx="165.41" cy="122.36" r="4.60" fill="#7E2F8E"/><circle cx="172.51" cy="122.63" r="4.60" fill="#7E2F8E"/><circle cx="179.61" cy="123.46" r="4.60" fill="#7E2F8E"/><circle cx="186.71" cy="124.29" r="4.60" fill="#7E2F8E"/><circle cx="193.81" cy="125.39" r="4.60" fill="#7E2F8E"/><circle cx="200.90" cy="125.67" r="4.60" fill="#7E2F8E"/><circle cx="208.00" cy="126.22" r="4.60" fill="#7E2F8E"/><circle cx="215.10" cy="126.77" r="4.60" fill="#7E2F8E"/><circle cx="222.20" cy="127.32" r="4.60" fill="#7E2F8E"/><circle cx="229.29" cy="127.60" r="4.60" fill="#7E2F8E"/><circle cx="236.39" cy="127.60" r="4.60" fill="#7E2F8E"/><circle cx="243.49" cy="62.68" r="4.60" fill="#7E2F8E"/><circle cx="250.59" cy="62.90" r="4.60" fill="#7E2F8E"/><circle cx="257.69" cy="63.23" r="4.60" fill="#7E2F8E"/><circle cx="264.78" cy="63.28" r="4.60" fill="#7E2F8E"/><circle cx="271.88" cy="63.56" r="4.60" fill="#7E2F8E"/><circle cx="278.98" cy="64.28" r="4.60" fill="#7E2F8E"/><circle cx="286.08" cy="65.21" r="4.60" fill="#7E2F8E"/><circle cx="293.18" cy="65.38" r="4.60" fill="#7E2F8E"/><circle cx="300.27" cy="62.70" r="4.60" fill="#7E2F8E"/><circle cx="307.37" cy="63.17" r="4.60" fill="#7E2F8E"/><circle cx="314.47" cy="63.61" r="4.60" fill="#7E2F8E"/><circle cx="321.57" cy="63.75" r="4.60" fill="#7E2F8E"/><circle cx="328.66" cy="63.75" r="4.60" fill="#7E2F8E"/><circle cx="335.76" cy="65.68" r="4.60" fill="#7E2F8E"/><circle cx="342.86" cy="66.48" r="4.60" fill="#7E2F8E"/><circle cx="349.96" cy="66.59" r="4.60" fill="#7E2F8E"/><circle cx="357.06" cy="66.62" r="4.60" fill="#7E2F8E"/><circle cx="364.15" cy="66.87" r="4.60" fill="#7E2F8E"/><circle cx="371.25" cy="66.90" r="4.60" fill="#7E2F8E"/><circle cx="378.35" cy="63.06" r="4.60" fill="#7E2F8E"/><circle cx="385.45" cy="66.51" r="4.60" fill="#7E2F8E"/><circle cx="392.55" cy="76.28" r="4.60" fill="#7E2F8E"/><circle cx="399.64" cy="77.93" r="4.60" fill="#7E2F8E"/><circle cx="406.74" cy="88.97" r="4.60" fill="#7E2F8E"/><circle cx="413.84" cy="89.52" r="4.60" fill="#7E2F8E"/><circle cx="420.94" cy="93.94" r="4.60" fill="#7E2F8E"/><circle cx="428.03" cy="100.28" r="4.60" fill="#7E2F8E"/><circle cx="435.13" cy="107.18" r="4.60" fill="#7E2F8E"/><circle cx="442.23" cy="115.18" r="4.60" fill="#7E2F8E"/><circle cx="449.33" cy="155.47" r="4.60" fill="#7E2F8E"/><circle cx="456.43" cy="175.06" r="4.60" fill="#7E2F8E"/><circle cx="463.52" cy="183.06" r="4.60" fill="#7E2F8E"/><circle cx="470.62" cy="191.61" r="4.60" fill="#7E2F8E"/><circle cx="477.72" cy="202.92" r="4.60" fill="#7E2F8E"/><circle cx="484.82" cy="202.37" r="4.60" fill="#7E2F8E"/><circle cx="491.92" cy="201.55" r="4.60" fill="#7E2F8E"/><circle cx="499.01" cy="196.85" r="4.60" fill="#7E2F8E"/><circle cx="506.11" cy="198.51" r="4.60" fill="#7E2F8E"/><circle cx="513.21" cy="87.04" r="4.60" fill="#7E2F8E"/><circle cx="520.31" cy="87.04" r="4.60" fill="#7E2F8E"/><circle cx="527.40" cy="94.49" r="4.60" fill="#7E2F8E"/><circle cx="534.50" cy="95.04" r="4.60" fill="#7E2F8E"/></g>
<polyline points="51.85,62.48 58.95,62.57 66.04,62.68 73.14,62.92 80.24,63.04 87.34,70.76 94.44,79.04 101.53,81.52 108.63,82.07 115.73,93.39 122.83,96.15 129.92,105.25 137.02,113.53 144.12,120.98 151.22,130.36 158.32,132.29 165.41,134.22 172.51,134.77 179.61,135.60 186.71,136.43 193.81,137.53 200.90,137.26 208.00,137.81 215.10,138.08 222.20,138.64 229.29,138.91 236.39,138.91 243.49,62.68 250.59,62.90 257.69,63.23 264.78,63.28 271.88,63.56 278.98,64.28 286.08,65.21 293.18,65.38 300.27,62.70 307.37,63.17 314.47,63.61 321.57,63.75 328.66,63.75 335.76,65.68 342.86,66.48 349.96,66.59 357.06,66.62 364.15,66.87 371.25,66.90 378.35,63.06 385.45,66.51 392.55,76.28 399.64,78.21 406.74,79.87 413.84,80.42 420.94,80.42 428.03,80.14 435.13,79.59 442.23,78.49 449.33,71.31 456.43,68.28 463.52,66.62 470.62,63.86 477.72,60.55 484.82,60.55 491.92,61.38 499.01,66.62 506.11,68.83 513.21,98.35 520.31,98.35 527.40,107.46 534.50,107.46" fill="none" stroke="#77AC30" stroke-width="3.7" stroke-linejoin="round"/><g><rect x="47.65" y="58.28" width="8.40" height="8.40" fill="#77AC30"/><rect x="54.75" y="58.37" width="8.40" height="8.40" fill="#77AC30"/><rect x="61.84" y="58.48" width="8.40" height="8.40" fill="#77AC30"/><rect x="68.94" y="58.72" width="8.40" height="8.40" fill="#77AC30"/><rect x="76.04" y="58.84" width="8.40" height="8.40" fill="#77AC30"/><rect x="83.14" y="66.56" width="8.40" height="8.40" fill="#77AC30"/><rect x="90.23" y="74.84" width="8.40" height="8.40" fill="#77AC30"/><rect x="97.33" y="77.32" width="8.40" height="8.40" fill="#77AC30"/><rect x="104.43" y="77.87" width="8.40" height="8.40" fill="#77AC30"/><rect x="111.53" y="89.19" width="8.40" height="8.40" fill="#77AC30"/><rect x="118.63" y="91.95" width="8.40" height="8.40" fill="#77AC30"/><rect x="125.72" y="101.05" width="8.40" height="8.40" fill="#77AC30"/><rect x="132.82" y="109.33" width="8.40" height="8.40" fill="#77AC30"/><rect x="139.92" y="116.78" width="8.40" height="8.40" fill="#77AC30"/><rect x="147.02" y="126.16" width="8.40" height="8.40" fill="#77AC30"/><rect x="154.12" y="128.09" width="8.40" height="8.40" fill="#77AC30"/><rect x="161.21" y="130.02" width="8.40" height="8.40" fill="#77AC30"/><rect x="168.31" y="130.57" width="8.40" height="8.40" fill="#77AC30"/><rect x="175.41" y="131.40" width="8.40" height="8.40" fill="#77AC30"/><rect x="182.51" y="132.23" width="8.40" height="8.40" fill="#77AC30"/><rect x="189.61" y="133.33" width="8.40" height="8.40" fill="#77AC30"/><rect x="196.70" y="133.06" width="8.40" height="8.40" fill="#77AC30"/><rect x="203.80" y="133.61" width="8.40" height="8.40" fill="#77AC30"/><rect x="210.90" y="133.88" width="8.40" height="8.40" fill="#77AC30"/><rect x="218.00" y="134.44" width="8.40" height="8.40" fill="#77AC30"/><rect x="225.09" y="134.71" width="8.40" height="8.40" fill="#77AC30"/><rect x="232.19" y="134.71" width="8.40" height="8.40" fill="#77AC30"/><rect x="239.29" y="58.48" width="8.40" height="8.40" fill="#77AC30"/><rect x="246.39" y="58.70" width="8.40" height="8.40" fill="#77AC30"/><rect x="253.49" y="59.03" width="8.40" height="8.40" fill="#77AC30"/><rect x="260.58" y="59.08" width="8.40" height="8.40" fill="#77AC30"/><rect x="267.68" y="59.36" width="8.40" height="8.40" fill="#77AC30"/><rect x="274.78" y="60.08" width="8.40" height="8.40" fill="#77AC30"/><rect x="281.88" y="61.01" width="8.40" height="8.40" fill="#77AC30"/><rect x="288.98" y="61.18" width="8.40" height="8.40" fill="#77AC30"/><rect x="296.07" y="58.50" width="8.40" height="8.40" fill="#77AC30"/><rect x="303.17" y="58.97" width="8.40" height="8.40" fill="#77AC30"/><rect x="310.27" y="59.41" width="8.40" height="8.40" fill="#77AC30"/><rect x="317.37" y="59.55" width="8.40" height="8.40" fill="#77AC30"/><rect x="324.46" y="59.55" width="8.40" height="8.40" fill="#77AC30"/><rect x="331.56" y="61.48" width="8.40" height="8.40" fill="#77AC30"/><rect x="338.66" y="62.28" width="8.40" height="8.40" fill="#77AC30"/><rect x="345.76" y="62.39" width="8.40" height="8.40" fill="#77AC30"/><rect x="352.86" y="62.42" width="8.40" height="8.40" fill="#77AC30"/><rect x="359.95" y="62.67" width="8.40" height="8.40" fill="#77AC30"/><rect x="367.05" y="62.70" width="8.40" height="8.40" fill="#77AC30"/><rect x="374.15" y="58.86" width="8.40" height="8.40" fill="#77AC30"/><rect x="381.25" y="62.31" width="8.40" height="8.40" fill="#77AC30"/><rect x="388.35" y="72.08" width="8.40" height="8.40" fill="#77AC30"/><rect x="395.44" y="74.01" width="8.40" height="8.40" fill="#77AC30"/><rect x="402.54" y="75.67" width="8.40" height="8.40" fill="#77AC30"/><rect x="409.64" y="76.22" width="8.40" height="8.40" fill="#77AC30"/><rect x="416.74" y="76.22" width="8.40" height="8.40" fill="#77AC30"/><rect x="423.83" y="75.94" width="8.40" height="8.40" fill="#77AC30"/><rect x="430.93" y="75.39" width="8.40" height="8.40" fill="#77AC30"/><rect x="438.03" y="74.29" width="8.40" height="8.40" fill="#77AC30"/><rect x="445.13" y="67.11" width="8.40" height="8.40" fill="#77AC30"/><rect x="452.23" y="64.08" width="8.40" height="8.40" fill="#77AC30"/><rect x="459.32" y="62.42" width="8.40" height="8.40" fill="#77AC30"/><rect x="466.42" y="59.66" width="8.40" height="8.40" fill="#77AC30"/><rect x="473.52" y="56.35" width="8.40" height="8.40" fill="#77AC30"/><rect x="480.62" y="56.35" width="8.40" height="8.40" fill="#77AC30"/><rect x="487.72" y="57.18" width="8.40" height="8.40" fill="#77AC30"/><rect x="494.81" y="62.42" width="8.40" height="8.40" fill="#77AC30"/><rect x="501.91" y="64.63" width="8.40" height="8.40" fill="#77AC30"/><rect x="509.01" y="94.15" width="8.40" height="8.40" fill="#77AC30"/><rect x="516.11" y="94.15" width="8.40" height="8.40" fill="#77AC30"/><rect x="523.20" y="103.26" width="8.40" height="8.40" fill="#77AC30"/><rect x="530.30" y="103.26" width="8.40" height="8.40" fill="#77AC30"/></g>
</g>
<g font-family="'Liberation Sans',Arial,Helvetica,sans-serif" font-weight="bold" fill="#202020" stroke="#202020" stroke-width="0.25" font-size="10.5">
<text x="44.75" y="353.7" text-anchor="middle">0</text>
<text x="58.95" y="353.7" text-anchor="middle">2</text>
<text x="73.14" y="353.7" text-anchor="middle">4</text>
<text x="87.34" y="353.7" text-anchor="middle">6</text>
<text x="101.53" y="353.7" text-anchor="middle">8</text>
<text x="115.73" y="353.7" text-anchor="middle">10</text>
<text x="129.92" y="353.7" text-anchor="middle">12</text>
<text x="144.12" y="353.7" text-anchor="middle">14</text>
<text x="158.32" y="353.7" text-anchor="middle">16</text>
<text x="172.51" y="353.7" text-anchor="middle">18</text>
<text x="186.71" y="353.7" text-anchor="middle">20</text>
<text x="200.90" y="353.7" text-anchor="middle">22</text>
<text x="215.10" y="353.7" text-anchor="middle">24</text>
<text x="229.29" y="353.7" text-anchor="middle">26</text>
<text x="243.49" y="353.7" text-anchor="middle">28</text>
<text x="257.69" y="353.7" text-anchor="middle">30</text>
<text x="271.88" y="353.7" text-anchor="middle">32</text>
<text x="286.08" y="353.7" text-anchor="middle">34</text>
<text x="300.27" y="353.7" text-anchor="middle">36</text>
<text x="314.47" y="353.7" text-anchor="middle">38</text>
<text x="328.66" y="353.7" text-anchor="middle">40</text>
<text x="342.86" y="353.7" text-anchor="middle">42</text>
<text x="357.06" y="353.7" text-anchor="middle">44</text>
<text x="371.25" y="353.7" text-anchor="middle">46</text>
<text x="385.45" y="353.7" text-anchor="middle">48</text>
<text x="399.64" y="353.7" text-anchor="middle">50</text>
<text x="413.84" y="353.7" text-anchor="middle">52</text>
<text x="428.03" y="353.7" text-anchor="middle">54</text>
<text x="442.23" y="353.7" text-anchor="middle">56</text>
<text x="456.43" y="353.7" text-anchor="middle">58</text>
<text x="470.62" y="353.7" text-anchor="middle">60</text>
<text x="484.82" y="353.7" text-anchor="middle">62</text>
<text x="499.01" y="353.7" text-anchor="middle">64</text>
<text x="513.21" y="353.7" text-anchor="middle">66</text>
<text x="527.40" y="353.7" text-anchor="middle">68</text>
<text x="541.60" y="353.7" text-anchor="middle">70</text>
<text x="40.3" y="11.90" text-anchor="end">1.02</text>
<text x="40.3" y="67.08" text-anchor="end">1</text>
<text x="40.3" y="122.27" text-anchor="end">0.98</text>
<text x="40.3" y="177.45" text-anchor="end">0.96</text>
<text x="40.3" y="232.63" text-anchor="end">0.94</text>
<text x="40.3" y="287.82" text-anchor="end">0.92</text>
<text x="40.3" y="343.00" text-anchor="end">0.9</text>
</g>
<g font-family="'Liberation Sans',Arial,Helvetica,sans-serif" font-weight="bold" fill="#1c1c1c" stroke="#1c1c1c" stroke-width="0.15" font-size="12.1">
<text x="293.4" y="368" text-anchor="middle">Bus Number</text>
<text transform="translate(13.6,174.0) rotate(-90)" text-anchor="middle" font-size="11.75">Voltage in pu</text>
</g>
<rect x="53.30" y="264.60" width="81.00" height="64.80" fill="#fff" stroke="#262626" stroke-width="1"/>
<g font-family="'Liberation Sans',Arial,Helvetica,sans-serif" font-weight="bold" fill="#000" font-size="9.2">
<path d="M56.9 272.30H87.4" stroke="#0072BD" stroke-width="3.7"/>
<polygon points="72.40,265.80 74.40,268.84 78.03,269.05 76.40,272.30 78.03,275.55 74.40,275.76 72.40,278.80 70.40,275.76 66.77,275.55 68.40,272.30 66.77,269.05 70.40,268.84" fill="#0072BD"/>
<text transform="translate(88.6,275.70) scale(1,1.06)">Basecase</text>
<path d="M56.9 284.60H87.4" stroke="#D95319" stroke-width="3.7"/>
<polygon points="72.40,276.50 74.63,281.53 80.10,282.10 76.01,285.77 77.16,291.15 72.40,288.40 67.64,291.15 68.79,285.77 64.70,282.10 70.17,281.53" fill="#D95319"/>
<text transform="translate(88.6,288.00) scale(1,1.06)">SALFJA</text>
<path d="M56.9 296.90H87.4" stroke="#EDB120" stroke-width="3.7"/>
<path d="M67.45 296.90H77.35M72.40 291.95V301.85" stroke="#EDB120" stroke-width="3.7" fill="none"/>
<text transform="translate(88.6,300.30) scale(1,1.06)">Jaya</text>
<path d="M56.9 309.20H87.4" stroke="#7E2F8E" stroke-width="3.7"/>
<circle cx="72.40" cy="309.20" r="4.60" fill="#7E2F8E"/>
<text transform="translate(88.6,312.60) scale(1,1.06)">GA</text>
<path d="M56.9 321.50H87.4" stroke="#77AC30" stroke-width="3.7"/>
<rect x="68.20" y="317.30" width="8.40" height="8.40" fill="#77AC30"/>
<text transform="translate(88.6,324.90) scale(1,1.06)">PSO</text>
</g>
</svg>
</body></html>
